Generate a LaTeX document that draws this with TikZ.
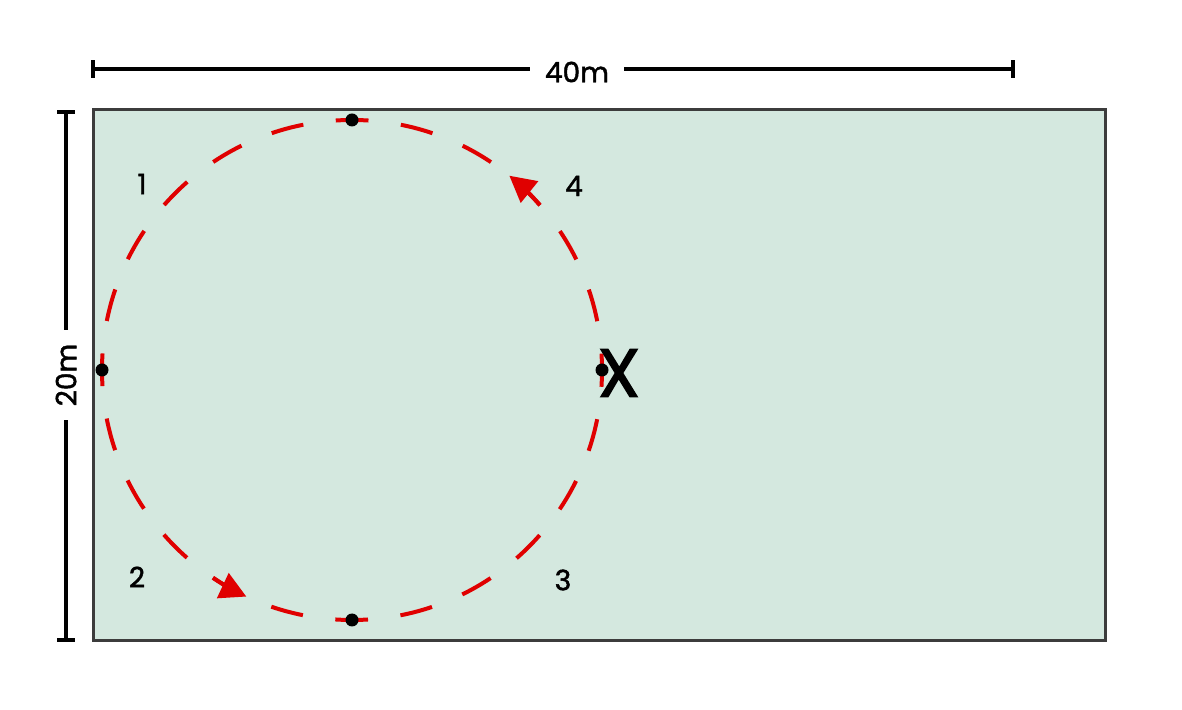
\documentclass[tikz,border=0pt]{standalone}
\usepackage{fontspec}
\setmainfont{Poppins}
\newfontfamily\labelfont{Poppins}[FakeBold=1.6]
\newfontfamily\markfont{Poppins}[FakeBold=2.2]
\usetikzlibrary{arrows.meta}
\definecolor{fieldgreen}{HTML}{D4E8DF}
\definecolor{pathred}{HTML}{E00000}
\definecolor{edgegray}{HTML}{3C3C3C}
\begin{document}
\begin{tikzpicture}[x=1pt,y=1pt,
  dimline/.style={line width=4pt, black},
  runpath/.style={pathred, line width=4pt, dash pattern=on 32.72pt off 32.72pt, dash phase=16.36pt},
  runarrow/.style={pathred, line width=4pt, -{Triangle[length=26pt,width=27pt]}},
  cone/.style={circle, fill=black, inner sep=0pt, minimum size=13pt},
  numlabel/.style={font=\labelfont\fontsize{28}{30}\selectfont, inner sep=0pt},
  dimlabel/.style={font=\labelfont\fontsize{28}{30}\selectfont, inner ysep=0pt, inner xsep=15pt},
]
\useasboundingbox (0,0) rectangle (1182,709);
\fill[white] (0,0) rectangle (1182,709);
% field
\draw[draw=edgegray, line width=3pt, fill=fieldgreen] (93,69) rectangle (1105,599);
% running circle
\coordinate (c) at (352,339);
\draw[runpath] (c) circle[radius=250];
\draw[runarrow] ([shift={(236.25:250)}]c) arc[start angle=236.25, end angle=245, radius=250];
\draw[runarrow] ([shift={(41.25:250)}]c) arc[start angle=41.25, end angle=51, radius=250];
% cones
\node[cone] (dtop) at ([shift={(90:250)}]c) {};
\node[cone] (dbot) at ([shift={(270:250)}]c) {};
\node[cone] (dleft) at ([shift={(180:250)}]c) {};
\node[cone] (dright) at ([shift={(0:250)}]c) {};
% labels
\node[numlabel] (n1) at (142,525) {1};
\node[numlabel] (n4) at (574,523) {4};
\node[numlabel] (n2) at (137,132) {2};
\node[numlabel] (n3) at (563,129) {3};
\node[font=\markfont\fontsize{68}{70}\selectfont, inner sep=0pt] (xmark) at (619,336) {X};
% top dimension
\coordinate (tl) at (93,640);
\coordinate (tr) at (1013,640);
\node[dimlabel] (w40) at (577,637) {40m};
\draw[dimline] (tl) -- (w40.west |- tl);
\draw[dimline] (w40.east |- tr) -- (tr);
\draw[dimline] ([yshift=-9pt]tl) -- ([yshift=9pt]tl);
\draw[dimline] ([yshift=-9pt]tr) -- ([yshift=9pt]tr);
% left dimension
\coordinate (lt) at (66,597);
\coordinate (lb) at (66,69);
\node[dimlabel, rotate=90, inner xsep=14pt] (h20) at (66,334) {20m};
\draw[dimline] (lt) -- (h20.east -| lt);
\draw[dimline] (h20.west -| lb) -- (lb);
\draw[dimline] ([xshift=-9pt]lt) -- ([xshift=9pt]lt);
\draw[dimline] ([xshift=-9pt]lb) -- ([xshift=9pt]lb);
\end{tikzpicture}
\end{document}
